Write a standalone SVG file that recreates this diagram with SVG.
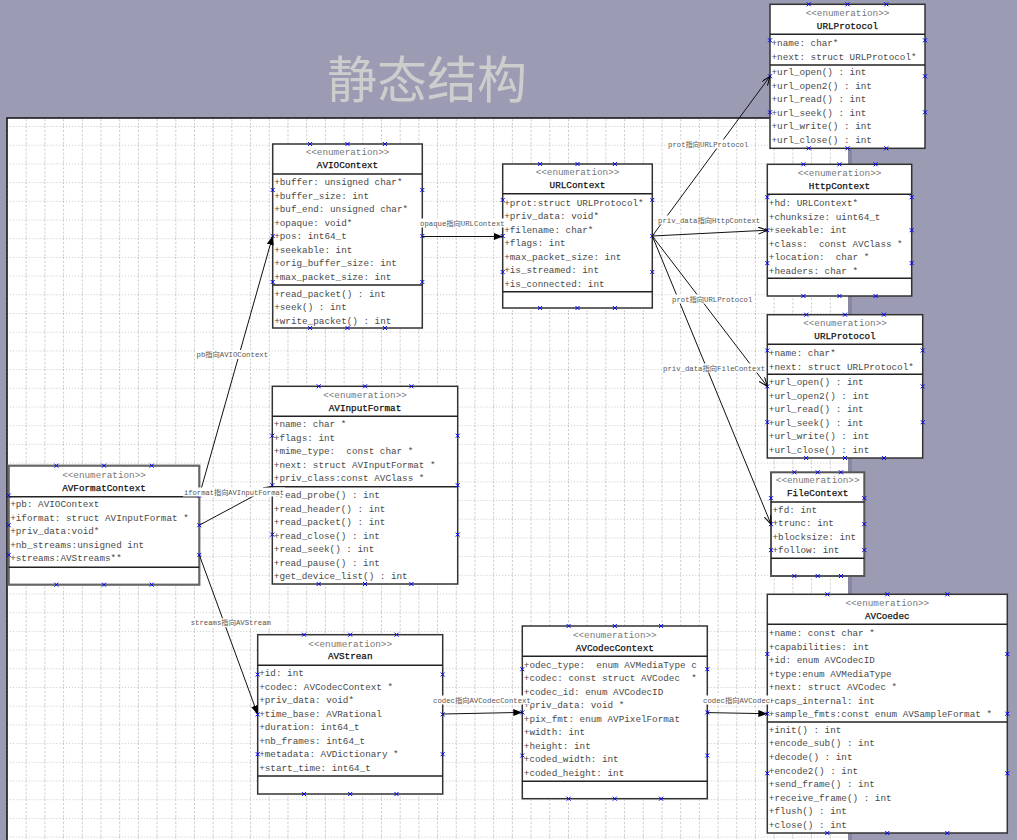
<svg xmlns="http://www.w3.org/2000/svg" width="1017" height="840" viewBox="0 0 1017 840">
<style>
.box{fill:#fff;stroke:#333;stroke-width:1.5}
.dv{stroke:#222;stroke-width:1.5}
.st{font-family:"Liberation Mono",monospace;font-size:9.3px;fill:#777;text-anchor:middle}
.nm{font-family:"Liberation Mono",monospace;font-size:9.3px;fill:#111;text-anchor:middle;stroke:#111;stroke-width:0.25}
.at{font-family:"Liberation Mono",monospace;font-size:9.3px;fill:#4a4a4a;white-space:pre}
.lb{font-family:"Liberation Mono","Noto Sans CJK SC",monospace;font-size:7.3px;fill:#555}
.lbg{fill:#fff}
.ln{stroke:#111;stroke-width:1;fill:none}
</style>
<defs>
<pattern id="grid" x="7" y="107.3" width="18.7" height="18.7" patternUnits="userSpaceOnUse">
<line x1="0" y1="0.5" x2="18.7" y2="0.5" stroke="#c6c6c6" stroke-width="1" stroke-dasharray="1 2"/>
<line x1="0.5" y1="0" x2="0.5" y2="18.7" stroke="#c6c6c6" stroke-width="1" stroke-dasharray="2 2"/>
</pattern>
<path id="cx" d="M-2,-2 L2,2 M-2,2 L2,-2" stroke="#0000ff" stroke-width="1" fill="none"/>
<marker id="af" markerUnits="userSpaceOnUse" markerWidth="10" markerHeight="8" refX="9" refY="3.5" orient="auto">
<path d="M0,0 L9,3.5 L0,7 z" fill="#000"/>
</marker>
<marker id="ao" markerUnits="userSpaceOnUse" markerWidth="10" markerHeight="8" refX="9" refY="3.5" orient="auto">
<path d="M0,0 L9,3.5 L0,7" fill="none" stroke="#000" stroke-width="1"/>
</marker>
</defs>

<rect x="0" y="0" width="1017" height="840" fill="#9b9bb3"/>
<rect x="848" y="122" width="4" height="718" fill="#8787a1"/>
<rect x="7" y="118" width="841" height="722" fill="#fff"/>
<rect x="7" y="118" width="841" height="722" fill="url(#grid)"/>
<path d="M7,840 L7,118 L848,118" stroke="#111" stroke-width="1.5" fill="none"/>
<text x="427" y="98" font-family="'Noto Sans CJK SC',sans-serif" font-size="50" fill="#cdcdcd" text-anchor="middle">静态结构</text>

<g id="AVIOContext">
<rect class="box" x="272.7" y="144" width="149.6" height="184"/>
<line class="dv" x1="272.7" y1="174" x2="422.3" y2="174"/>
<line class="dv" x1="272.7" y1="285" x2="422.3" y2="285"/>
<text class="st" x="347.5" y="155.3">&lt;&lt;enumeration&gt;&gt;</text>
<text class="nm" x="347.5" y="168.3">AVIOContext</text>
<text class="at"><tspan x="274.2" y="185.3">+buffer: unsigned char*</tspan><tspan x="274.2" y="198.8">+buffer_size: int</tspan><tspan x="274.2" y="212.3">+buf_end: unsigned char*</tspan><tspan x="274.2" y="225.8">+opaque: void*</tspan><tspan x="274.2" y="239.3">+pos: int64_t</tspan><tspan x="274.2" y="252.8">+seekable: int</tspan><tspan x="274.2" y="266.3">+orig_buffer_size: int</tspan><tspan x="274.2" y="279.8">+max_packet_size: int</tspan><tspan x="274.2" y="296.8">+read_packet() : int</tspan><tspan x="274.2" y="310.3">+seek() : int</tspan><tspan x="274.2" y="323.8">+write_packet() : int</tspan></text>
<use href="#cx" x="310.1" y="144"/><use href="#cx" x="347.5" y="144"/><use href="#cx" x="384.9" y="144"/>
<use href="#cx" x="310.1" y="328"/><use href="#cx" x="347.5" y="328"/><use href="#cx" x="384.9" y="328"/>
<use href="#cx" x="272.7" y="190"/><use href="#cx" x="272.7" y="236"/><use href="#cx" x="272.7" y="282"/>
<use href="#cx" x="422.3" y="190"/><use href="#cx" x="422.3" y="236"/><use href="#cx" x="422.3" y="282"/>
</g>

<g id="URLContext">
<rect class="box" x="502.7" y="164" width="149.6" height="144"/>
<line class="dv" x1="502.7" y1="193.7" x2="652.3" y2="193.7"/>
<line class="dv" x1="502.7" y1="291.7" x2="652.3" y2="291.7"/>
<text class="st" x="577.5" y="175">&lt;&lt;enumeration&gt;&gt;</text>
<text class="nm" x="577.5" y="188.3">URLContext</text>
<text class="at"><tspan x="504.2" y="205.6">+prot:struct URLProtocol*</tspan><tspan x="504.2" y="219.1">+priv_data: void*</tspan><tspan x="504.2" y="232.6">+filename: char*</tspan><tspan x="504.2" y="246.1">+flags: int</tspan><tspan x="504.2" y="259.6">+max_packet_size: int</tspan><tspan x="504.2" y="273.1">+is_streamed: int</tspan><tspan x="504.2" y="286.6">+is_connected: int</tspan></text>
<use href="#cx" x="540.1" y="164"/><use href="#cx" x="577.5" y="164"/><use href="#cx" x="614.9" y="164"/>
<use href="#cx" x="540.1" y="308"/><use href="#cx" x="577.5" y="308"/><use href="#cx" x="614.9" y="308"/>
<use href="#cx" x="502.7" y="200"/><use href="#cx" x="502.7" y="236"/><use href="#cx" x="502.7" y="272"/>
<use href="#cx" x="652.3" y="200"/><use href="#cx" x="652.3" y="236"/><use href="#cx" x="652.3" y="272"/>
</g>

<g id="URLProtocol1">
<rect class="box" x="770" y="4.3" width="155" height="144"/>
<line class="dv" x1="770" y1="34.3" x2="925" y2="34.3"/>
<line class="dv" x1="770" y1="65" x2="925" y2="65"/>
<text class="st" x="847.5" y="15.6">&lt;&lt;enumeration&gt;&gt;</text>
<text class="nm" x="847.5" y="28.6">URLProtocol</text>
<text class="at"><tspan x="771.5" y="46">+name: char*</tspan><tspan x="771.5" y="59.5">+next: struct URLProtocol*</tspan><tspan x="771.5" y="75.3">+url_open() : int</tspan><tspan x="771.5" y="88.8">+url_open2() : int</tspan><tspan x="771.5" y="102.3">+url_read() : int</tspan><tspan x="771.5" y="115.8">+url_seek() : int</tspan><tspan x="771.5" y="129.3">+url_write() : int</tspan><tspan x="771.5" y="142.8">+url_close() : int</tspan></text>
<use href="#cx" x="808.8" y="4.3"/><use href="#cx" x="847.5" y="4.3"/><use href="#cx" x="886.3" y="4.3"/>
<use href="#cx" x="808.8" y="148.3"/><use href="#cx" x="847.5" y="148.3"/><use href="#cx" x="886.3" y="148.3"/>
<use href="#cx" x="770" y="40.3"/><use href="#cx" x="770" y="76.3"/><use href="#cx" x="770" y="112.3"/>
<use href="#cx" x="925" y="40.3"/><use href="#cx" x="925" y="76.3"/><use href="#cx" x="925" y="112.3"/>
</g>

<g id="HttpContext">
<rect class="box" x="767.3" y="164.3" width="144.4" height="131.7"/>
<line class="dv" x1="767.3" y1="194.3" x2="911.7" y2="194.3"/>
<line class="dv" x1="767.3" y1="278.3" x2="911.7" y2="278.3"/>
<text class="st" x="839.5" y="176">&lt;&lt;enumeration&gt;&gt;</text>
<text class="nm" x="839.5" y="189.3">HttpContext</text>
<text class="at"><tspan x="768.8" y="206">+hd: URLContext*</tspan><tspan x="768.8" y="219.5">+chunksize: uint64_t</tspan><tspan x="768.8" y="233">+seekable: int</tspan><tspan x="768.8" y="246.5">+class:  const AVClass *</tspan><tspan x="768.8" y="260">+location:  char *</tspan><tspan x="768.8" y="273.5">+headers: char *</tspan></text>
<use href="#cx" x="803.4" y="164.3"/><use href="#cx" x="839.5" y="164.3"/><use href="#cx" x="875.6" y="164.3"/>
<use href="#cx" x="803.4" y="296"/><use href="#cx" x="839.5" y="296"/><use href="#cx" x="875.6" y="296"/>
<use href="#cx" x="767.3" y="197.2"/><use href="#cx" x="767.3" y="230.2"/><use href="#cx" x="767.3" y="263.1"/>
<use href="#cx" x="911.7" y="197.2"/><use href="#cx" x="911.7" y="230.2"/><use href="#cx" x="911.7" y="263.1"/>
</g>

<g id="URLProtocol2">
<rect class="box" x="767.3" y="314.7" width="155.4" height="143.3"/>
<line class="dv" x1="767.3" y1="344.3" x2="922.7" y2="344.3"/>
<line class="dv" x1="767.3" y1="374.3" x2="922.7" y2="374.3"/>
<text class="st" x="845" y="325.6">&lt;&lt;enumeration&gt;&gt;</text>
<text class="nm" x="845" y="338.6">URLProtocol</text>
<text class="at"><tspan x="768.8" y="356">+name: char*</tspan><tspan x="768.8" y="369.5">+next: struct URLProtocol*</tspan><tspan x="768.8" y="385.3">+url_open() : int</tspan><tspan x="768.8" y="398.8">+url_open2() : int</tspan><tspan x="768.8" y="412.3">+url_read() : int</tspan><tspan x="768.8" y="425.8">+url_seek() : int</tspan><tspan x="768.8" y="439.3">+url_write() : int</tspan><tspan x="768.8" y="452.8">+url_close() : int</tspan></text>
<use href="#cx" x="806.2" y="314.7"/><use href="#cx" x="845" y="314.7"/><use href="#cx" x="883.9" y="314.7"/>
<use href="#cx" x="806.2" y="458"/><use href="#cx" x="845" y="458"/><use href="#cx" x="883.9" y="458"/>
<use href="#cx" x="767.3" y="350.5"/><use href="#cx" x="767.3" y="386.4"/><use href="#cx" x="767.3" y="422.2"/>
<use href="#cx" x="922.7" y="350.5"/><use href="#cx" x="922.7" y="386.4"/><use href="#cx" x="922.7" y="422.2"/>
</g>

<g id="FileContext">
<rect class="box" x="771" y="472.3" width="93.3" height="103.7" style="stroke:#555;stroke-width:2"/>
<line class="dv" x1="771" y1="502" x2="864.3" y2="502"/>
<line class="dv" x1="771" y1="558.3" x2="864.3" y2="558.3"/>
<text class="st" x="817.7" y="482.6">&lt;&lt;enumeration&gt;&gt;</text>
<text class="nm" x="817.7" y="496">FileContext</text>
<text class="at"><tspan x="772.5" y="512.6">+fd: int</tspan><tspan x="772.5" y="526.1">+trunc: int</tspan><tspan x="772.5" y="539.6">+blocksize: int</tspan><tspan x="772.5" y="553.1">+follow: int</tspan></text>
<use href="#cx" x="794.3" y="472.3"/><use href="#cx" x="817.7" y="472.3"/><use href="#cx" x="841" y="472.3"/>
<use href="#cx" x="794.3" y="576"/><use href="#cx" x="817.7" y="576"/><use href="#cx" x="841" y="576"/>
<use href="#cx" x="771" y="498.2"/><use href="#cx" x="771" y="524.2"/><use href="#cx" x="771" y="550.1"/>
<use href="#cx" x="864.3" y="498.2"/><use href="#cx" x="864.3" y="524.2"/><use href="#cx" x="864.3" y="550.1"/>
</g>

<g id="AVInputFormat">
<rect class="box" x="272.3" y="386.3" width="185.4" height="197.7"/>
<line class="dv" x1="272.3" y1="416.3" x2="457.7" y2="416.3"/>
<line class="dv" x1="272.3" y1="486.7" x2="457.7" y2="486.7"/>
<text class="st" x="365" y="397.6">&lt;&lt;enumeration&gt;&gt;</text>
<text class="nm" x="365" y="410.6">AVInputFormat</text>
<text class="at"><tspan x="273.8" y="427.3">+name: char *</tspan><tspan x="273.8" y="440.8">+flags: int</tspan><tspan x="273.8" y="454.3">+mime_type:  const char *</tspan><tspan x="273.8" y="467.8">+next: struct AVInputFormat *</tspan><tspan x="273.8" y="481.3">+priv_class:const AVClass *</tspan><tspan x="273.8" y="498">+read_probe() : int</tspan><tspan x="273.8" y="511.5">+read_header() : int</tspan><tspan x="273.8" y="525">+read_packet() : int</tspan><tspan x="273.8" y="538.5">+read_close() : int</tspan><tspan x="273.8" y="552">+read_seek() : int</tspan><tspan x="273.8" y="565.5">+read_pause() : int</tspan><tspan x="273.8" y="579">+get_device_list() : int</tspan></text>
<use href="#cx" x="318.7" y="386.3"/><use href="#cx" x="365" y="386.3"/><use href="#cx" x="411.4" y="386.3"/>
<use href="#cx" x="318.7" y="584"/><use href="#cx" x="365" y="584"/><use href="#cx" x="411.4" y="584"/>
<use href="#cx" x="272.3" y="435.7"/><use href="#cx" x="272.3" y="485.2"/><use href="#cx" x="272.3" y="534.6"/>
<use href="#cx" x="457.7" y="435.7"/><use href="#cx" x="457.7" y="485.2"/><use href="#cx" x="457.7" y="534.6"/>
</g>

<g id="AVFormatContext">
<rect class="box" x="8.7" y="465.7" width="190.6" height="119" style="stroke:#666;stroke-width:2.2"/>
<line class="dv" x1="8.7" y1="496.7" x2="199.3" y2="496.7"/>
<line class="dv" x1="8.7" y1="567.3" x2="199.3" y2="567.3"/>
<text class="st" x="104" y="477.6">&lt;&lt;enumeration&gt;&gt;</text>
<text class="nm" x="104" y="490.6">AVFormatContext</text>
<text class="at"><tspan x="10.2" y="507.3">+pb: AVIOContext</tspan><tspan x="10.2" y="520.8">+iformat: struct AVInputFormat *</tspan><tspan x="10.2" y="534.3">+priv_data:void*</tspan><tspan x="10.2" y="547.8">+nb_streams:unsigned int</tspan><tspan x="10.2" y="561.3">+streams:AVStreams**</tspan></text>
<use href="#cx" x="56.4" y="465.7"/><use href="#cx" x="104" y="465.7"/><use href="#cx" x="151.7" y="465.7"/>
<use href="#cx" x="56.4" y="584.7"/><use href="#cx" x="104" y="584.7"/><use href="#cx" x="151.7" y="584.7"/>
<use href="#cx" x="8.7" y="495.5"/><use href="#cx" x="8.7" y="525.2"/><use href="#cx" x="8.7" y="554.9"/>
<use href="#cx" x="199.3" y="495.5"/><use href="#cx" x="199.3" y="525.2"/><use href="#cx" x="199.3" y="554.9"/>
</g>

<g id="AVStream">
<rect class="box" x="257.7" y="634.7" width="185" height="159.3"/>
<line class="dv" x1="257.7" y1="665.3" x2="442.7" y2="665.3"/>
<line class="dv" x1="257.7" y1="776" x2="442.7" y2="776"/>
<text class="st" x="350.2" y="646.6">&lt;&lt;enumeration&gt;&gt;</text>
<text class="nm" x="350.2" y="659.3">AVStrean</text>
<text class="at"><tspan x="259.2" y="676">+id: int</tspan><tspan x="259.2" y="689.5">+codec: AVCodecContext *</tspan><tspan x="259.2" y="703">+priv_data: void*</tspan><tspan x="259.2" y="716.5">+time_base: AVRational</tspan><tspan x="259.2" y="730">+duration: int64_t</tspan><tspan x="259.2" y="743.5">+nb_frames: int64_t</tspan><tspan x="259.2" y="757">+metadata: AVDictionary *</tspan><tspan x="259.2" y="770.5">+start_time: int64_t</tspan></text>
<use href="#cx" x="304" y="634.7"/><use href="#cx" x="350.2" y="634.7"/><use href="#cx" x="396.5" y="634.7"/>
<use href="#cx" x="304" y="794"/><use href="#cx" x="350.2" y="794"/><use href="#cx" x="396.5" y="794"/>
<use href="#cx" x="257.7" y="674.5"/><use href="#cx" x="257.7" y="714.4"/><use href="#cx" x="257.7" y="754.2"/>
<use href="#cx" x="442.7" y="674.5"/><use href="#cx" x="442.7" y="714.4"/><use href="#cx" x="442.7" y="754.2"/>
</g>

<g id="AVCodecContext">
<rect class="box" x="522.3" y="626" width="185" height="172.7"/>
<line class="dv" x1="522.3" y1="656.3" x2="707.3" y2="656.3"/>
<line class="dv" x1="522.3" y1="781.3" x2="707.3" y2="781.3"/>
<text class="st" x="614.8" y="637.6">&lt;&lt;enumeration&gt;&gt;</text>
<text class="nm" x="614.8" y="651">AVCodecContext</text>
<text class="at"><tspan x="523.8" y="667.6">+odec_type:  enum AVMediaType c</tspan><tspan x="523.8" y="681.1">+codec: const struct AVCodec  *</tspan><tspan x="523.8" y="694.6">+codec_id: enum AVCodecID</tspan><tspan x="523.8" y="708.1">+priv_data: void *</tspan><tspan x="523.8" y="721.6">+pix_fmt: enum AVPixelFormat</tspan><tspan x="523.8" y="735.1">+width: int</tspan><tspan x="523.8" y="748.6">+height: int</tspan><tspan x="523.8" y="762.1">+coded_width: int</tspan><tspan x="523.8" y="775.6">+coded_height: int</tspan></text>
<use href="#cx" x="568.6" y="626"/><use href="#cx" x="614.8" y="626"/><use href="#cx" x="661.1" y="626"/>
<use href="#cx" x="568.6" y="798.7"/><use href="#cx" x="614.8" y="798.7"/><use href="#cx" x="661.1" y="798.7"/>
<use href="#cx" x="522.3" y="669.2"/><use href="#cx" x="522.3" y="712.4"/><use href="#cx" x="522.3" y="755.5"/>
<use href="#cx" x="707.3" y="669.2"/><use href="#cx" x="707.3" y="712.4"/><use href="#cx" x="707.3" y="755.5"/>
</g>

<g id="AVCoedec">
<rect class="box" x="767.3" y="594.3" width="240" height="238.7"/>
<line class="dv" x1="767.3" y1="624.3" x2="1007.3" y2="624.3"/>
<line class="dv" x1="767.3" y1="722" x2="1007.3" y2="722"/>
<text class="st" x="887.3" y="605.6">&lt;&lt;enumeration&gt;&gt;</text>
<text class="nm" x="887.3" y="619">AVCoedec</text>
<text class="at"><tspan x="768.8" y="636">+name: const char *</tspan><tspan x="768.8" y="649.5">+capabilities: int</tspan><tspan x="768.8" y="663">+id: enum AVCodecID</tspan><tspan x="768.8" y="676.5">+type:enum AVMediaType</tspan><tspan x="768.8" y="690">+next: struct AVCodec *</tspan><tspan x="768.8" y="703.5">+caps_internal: int</tspan><tspan x="768.8" y="717">+sample_fmts:const enum AVSampleFormat *</tspan><tspan x="768.8" y="732.6">+init() : int</tspan><tspan x="768.8" y="746.3">+encode_sub() : int</tspan><tspan x="768.8" y="759.9">+decode() : int</tspan><tspan x="768.8" y="773.5">+encode2() : int</tspan><tspan x="768.8" y="787.1">+send_frame() : int</tspan><tspan x="768.8" y="800.7">+receive_frame() : int</tspan><tspan x="768.8" y="814.3">+flush() : int</tspan><tspan x="768.8" y="827.9">+close() : int</tspan></text>
<use href="#cx" x="827.3" y="594.3"/><use href="#cx" x="887.3" y="594.3"/><use href="#cx" x="947.3" y="594.3"/>
<use href="#cx" x="827.3" y="833"/><use href="#cx" x="887.3" y="833"/><use href="#cx" x="947.3" y="833"/>
<use href="#cx" x="767.3" y="654"/><use href="#cx" x="767.3" y="713.7"/><use href="#cx" x="767.3" y="773.3"/>
<use href="#cx" x="1007.3" y="654"/><use href="#cx" x="1007.3" y="713.7"/><use href="#cx" x="1007.3" y="773.3"/>
</g>

<g id="connectors">
<line class="ln" x1="199.3" y1="495.5" x2="272.7" y2="236" marker-end="url(#af)"/>
<line class="ln" x1="199.3" y1="525.2" x2="272.3" y2="486" marker-end="url(#af)"/>
<line class="ln" x1="199.3" y1="554.9" x2="257.7" y2="714.4" marker-end="url(#af)"/>
<line class="ln" x1="422.3" y1="236.5" x2="502.7" y2="236.5" marker-end="url(#af)"/>
<line class="ln" x1="652.3" y1="236" x2="770" y2="76.3" marker-end="url(#ao)"/>
<line class="ln" x1="652.3" y1="236" x2="767.3" y2="230.2" marker-end="url(#ao)"/>
<line class="ln" x1="652.3" y1="236" x2="767.3" y2="386.4" marker-end="url(#ao)"/>
<line class="ln" x1="652.3" y1="236" x2="771" y2="524.2" marker-end="url(#ao)"/>
<line class="ln" x1="442.7" y1="714" x2="522.3" y2="712.4" marker-end="url(#af)"/>
<line class="ln" x1="707.3" y1="712.6" x2="767.3" y2="713.7" marker-end="url(#af)"/>
<rect class="lbg" x="195.5" y="350" width="73" height="9"/>
<text class="lb" x="196.5" y="357">pb指向AVIOContext</text>
<rect class="lbg" x="183" y="487.5" width="102" height="9"/>
<text class="lb" x="184" y="494.5" textLength="100" lengthAdjust="spacingAndGlyphs">iformat指向AVInputFormat</text>
<rect class="lbg" x="189.7" y="618.2" width="81" height="9"/>
<text class="lb" x="190.7" y="625.2">streams指向AVStream</text>
<rect class="lbg" x="419" y="218.5" width="85" height="9"/>
<text class="lb" x="420" y="225.5">opaque指向URLContext</text>
<rect class="lbg" x="667" y="139.5" width="82" height="9"/>
<text class="lb" x="668" y="146.5">prot指向URLProtocol</text>
<rect class="lbg" x="657" y="215.5" width="104" height="9"/>
<text class="lb" x="658" y="222.5">priv_data指向HttpContext</text>
<rect class="lbg" x="671" y="294.5" width="82" height="9"/>
<text class="lb" x="672" y="301.5">prot指向URLProtocol</text>
<rect class="lbg" x="662" y="363.5" width="103" height="9"/>
<text class="lb" x="663" y="370.5">priv_data指向FileContext</text>
<rect class="lbg" x="432" y="695.5" width="99" height="9"/>
<text class="lb" x="433" y="702.5">codec指向AVCodecContext</text>
<rect class="lbg" x="702" y="695.5" width="69" height="9"/>
<text class="lb" x="703" y="702.5">codec指向AVCodec</text>
</g>
</svg>
